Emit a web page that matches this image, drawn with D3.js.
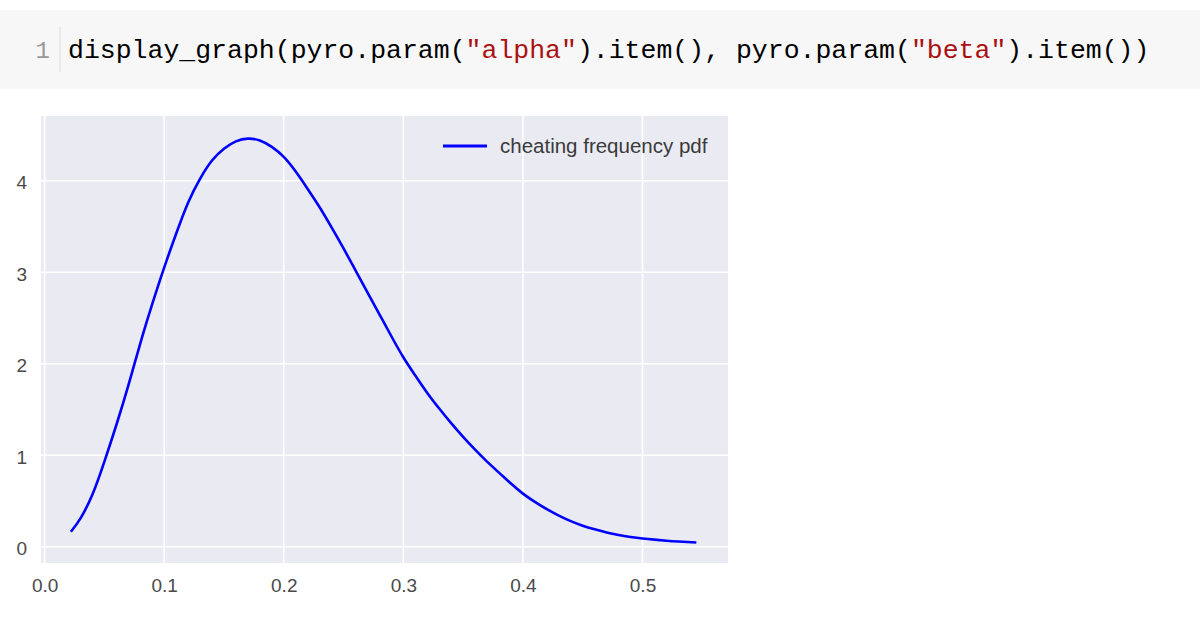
<!DOCTYPE html>
<html>
<head>
<meta charset="utf-8">
<script src="https://cdn.jsdelivr.net/npm/d3@7"></script>
<style>
  body { margin: 0; background: #fff; }
  svg { display: block; }
</style>
</head>
<body>
<svg id="chart" width="1200" height="617"></svg>
<script>
// code cell line
var codeParts = [
	{text: 'display_graph(pyro.param(', cls: 'plain'},
	{text: '"alpha"', cls: 'str'},
	{text: ').item(), pyro.param(', cls: 'plain'},
	{text: '"beta"', cls: 'str'},
	{text: ').item())', cls: 'plain'}
];

// cheating frequency pdf
var pdfX = [0.022, 0.03, 0.04, 0.05, 0.06, 0.07, 0.08, 0.09, 0.10, 0.11,
	0.12, 0.13, 0.14, 0.15, 0.16, 0.17, 0.18, 0.19, 0.20, 0.21,
	0.22, 0.23, 0.24, 0.25, 0.26, 0.27, 0.28, 0.29, 0.30, 0.31,
	0.32, 0.33, 0.34, 0.35, 0.36, 0.37, 0.38, 0.39, 0.40, 0.41,
	0.42, 0.43, 0.44, 0.45, 0.46, 0.47, 0.48, 0.49, 0.50, 0.51,
	0.52, 0.53, 0.545];
var pdfY = [0.164, 0.31, 0.57, 0.93, 1.33, 1.76, 2.22, 2.65, 3.05, 3.42,
	3.76, 4.02, 4.22, 4.35, 4.43, 4.46, 4.44, 4.37, 4.26, 4.10,
	3.91, 3.71, 3.49, 3.26, 3.02, 2.78, 2.54, 2.30, 2.07, 1.87,
	1.68, 1.51, 1.35, 1.20, 1.06, 0.93, 0.81, 0.69, 0.58, 0.49,
	0.41, 0.34, 0.28, 0.23, 0.19, 0.155, 0.128, 0.107, 0.09, 0.077,
	0.066, 0.057, 0.046];

var xTicks = [0, 0.1, 0.2, 0.3, 0.4, 0.5];
var yTicks = [0, 1, 2, 3, 4];
var legendLabel = 'cheating frequency pdf';

var svg = d3.select('#chart');

// ---- code cell ----
svg.append('rect')
	.attr('x', 0).attr('y', 10)
	.attr('width', 1200).attr('height', 79)
	.attr('fill', '#f7f7f7');

svg.append('line')
	.attr('x1', 60).attr('x2', 60)
	.attr('y1', 27).attr('y2', 72)
	.attr('stroke', '#dddddd')
	.attr('stroke-width', 1);

svg.append('text')
	.attr('x', 50).attr('y', 58)
	.attr('text-anchor', 'end')
	.attr('font-family', '"Liberation Mono", "DejaVu Sans Mono", monospace')
	.attr('font-size', 24)
	.attr('fill', '#999999')
	.text('1');

var code = svg.append('text')
	.attr('x', 68).attr('y', 58)
	.attr('font-family', '"Liberation Mono", "DejaVu Sans Mono", monospace')
	.attr('font-size', 26.5)
	.attr('xml:space', 'preserve');

code.selectAll('tspan')
	.data(codeParts)
	.enter().append('tspan')
	.attr('fill', function(d){ return d.cls == 'str' ? '#aa1111' : '#000000'; })
	.text(function(d){ return d.text; });

// ---- plot ----
var plotL = 41, plotR = 728, plotT = 116, plotB = 563;

var x = d3.scaleLinear().domain([-0.003, 0.5715]).range([plotL, plotR]);
var y = d3.scaleLinear().domain([-0.178, 4.707]).range([plotB, plotT]);

svg.append('rect')
	.attr('x', plotL).attr('y', plotT)
	.attr('width', plotR - plotL).attr('height', plotB - plotT)
	.attr('fill', '#eaeaf2');

var grid = svg.append('g');
grid.selectAll('.vgrid')
	.data(xTicks)
	.enter().append('line')
	.attr('class', 'vgrid')
	.attr('x1', function(d){ return x(d); })
	.attr('x2', function(d){ return x(d); })
	.attr('y1', plotT).attr('y2', plotB)
	.attr('stroke', '#ffffff')
	.attr('stroke-width', 1.6);

grid.selectAll('.hgrid')
	.data(yTicks)
	.enter().append('line')
	.attr('class', 'hgrid')
	.attr('x1', plotL).attr('x2', plotR)
	.attr('y1', function(d){ return y(d); })
	.attr('y2', function(d){ return y(d); })
	.attr('stroke', '#ffffff')
	.attr('stroke-width', 1.6);

// axes: labels only, no spines or tick marks
var xAxis = svg.append('g')
	.attr('transform', 'translate(0,' + plotB + ')')
	.call(d3.axisBottom(x).tickValues(xTicks).tickFormat(d3.format('.1f')).tickSize(0).tickPadding(16));
var yAxis = svg.append('g')
	.attr('transform', 'translate(' + plotL + ',0)')
	.call(d3.axisLeft(y).tickValues(yTicks).tickFormat(d3.format('d')).tickSize(0).tickPadding(14));

[xAxis, yAxis].forEach(function(a){
	a.select('.domain').remove();
	a.selectAll('text')
		.attr('font-family', '"Liberation Sans", Arial, sans-serif')
		.attr('font-size', 19)
		.attr('fill', '#4a4a4a');
});
xAxis.selectAll('text').attr('dy', '0.71em');
yAxis.selectAll('text').attr('dy', '0.42em');

// pdf curve
var line = d3.line()
	.x(function(d){ return x(d[0]); })
	.y(function(d){ return y(d[1]); })
	.curve(d3.curveNatural);

svg.append('path')
	.datum(d3.zip(pdfX, pdfY))
	.attr('d', line)
	.attr('fill', 'none')
	.attr('stroke', '#0000ff')
	.attr('stroke-width', 2.6)
	.attr('stroke-linejoin', 'round');

// legend (no frame)
svg.append('line')
	.attr('x1', 443).attr('x2', 487)
	.attr('y1', 146).attr('y2', 146)
	.attr('stroke', '#0000ff')
	.attr('stroke-width', 3);

svg.append('text')
	.attr('x', 500).attr('y', 153)
	.attr('font-family', '"Liberation Sans", Arial, sans-serif')
	.attr('font-size', 20.5)
	.attr('fill', '#3a3a3a')
	.text(legendLabel);
</script>
</body>
</html>
